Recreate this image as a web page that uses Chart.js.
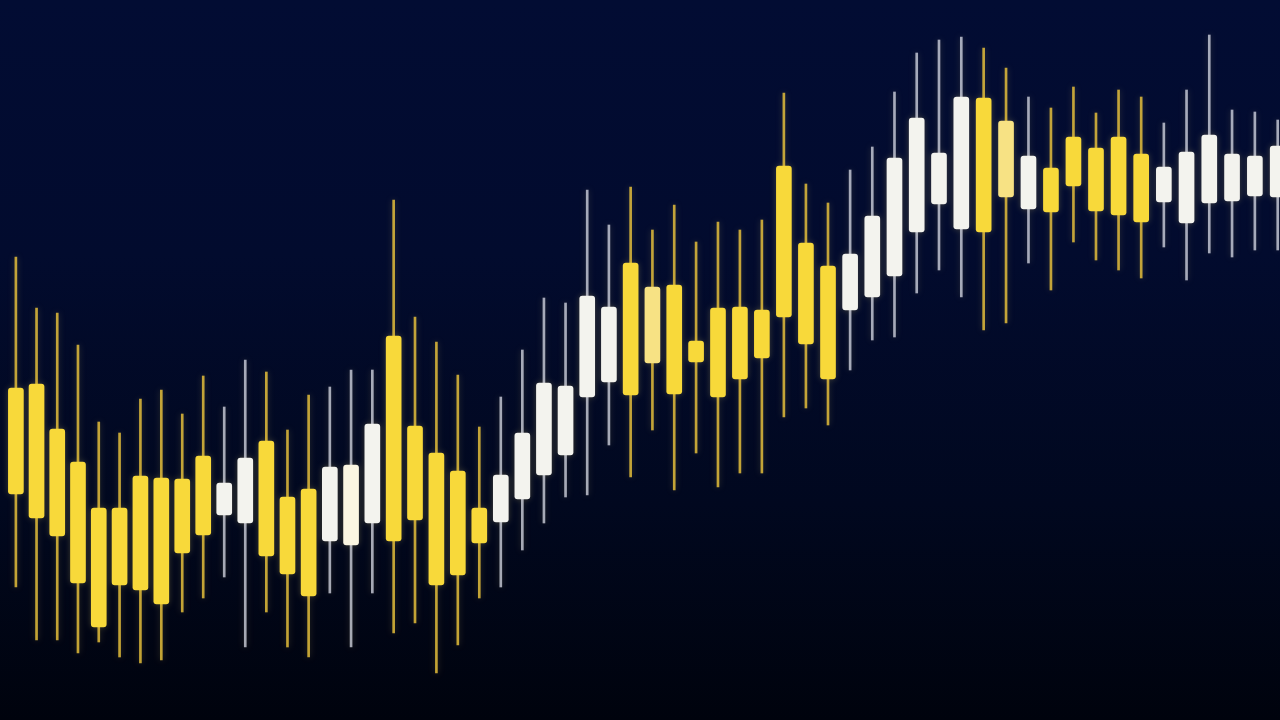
<!DOCTYPE html>
<html>
<head>
<meta charset="utf-8">
<script src="https://cdn.jsdelivr.net/npm/chart.js@4.4.1/dist/chart.umd.min.js"></script>
<style>
  html, body { margin: 0; padding: 0; width: 1280px; height: 720px; overflow: hidden;
    background: linear-gradient(to bottom, #020c33 0%, #020b2e 35%, #01081f 70%, #00030d 100%); }
  #wrap { position: absolute; left: 0; top: 0; width: 1280px; height: 720px; }
  canvas { filter: drop-shadow(0 0 3px rgba(255, 225, 110, 0.25)); }
</style>
</head>
<body>
<div id="wrap"><canvas id="c" width="1280" height="720"></canvas></div>
<script>
// ---- data ----
const sessions = Array.from({length: 59}, (_, i) => 'S' + (i + 1));
const open  = [33.2,33.6,29.1,25.8,21.2,21.2,24.4,24.2,24.1,26.4,
               20.5,19.7,27.9,22.3,23.1,17.9,17.5,19.7,38.4,29.4,
               26.7,24.9,21.2,19.8,22.1,24.5,26.5,32.3,33.8,45.7,
               43.3,43.5,37.9,41.2,41.3,41.0,55.4,47.7,45.4,41.0,
               42.3,44.4,48.8,51.6,49.1,62.2,59.9,51.1,55.2,58.3,
               57.2,58.3,56.6,51.8,49.7,51.7,51.9,52.4,52.3];
const close = [22.6,20.2,18.4,13.7,9.3,13.5,13.0,11.6,16.7,18.5,
               23.7,26.2,16.4,14.6,12.4,25.3,25.5,29.6,17.9,20.0,
               13.5,14.5,17.7,24.5,28.7,33.7,33.4,42.4,41.3,32.5,
               35.7,32.6,35.8,32.3,34.1,36.2,40.3,37.6,34.1,46.6,
               50.4,56.2,60.2,56.7,62.3,48.8,52.3,56.4,50.8,53.4,
               50.9,50.5,49.8,55.3,56.8,58.5,56.6,56.4,57.4];
const high  = [46.3,41.2,40.7,37.5,29.8,28.7,32.1,33.0,30.6,34.4,
               31.3,36.0,34.8,29.0,32.5,33.3,35.0,35.0,52.0,40.3,
               37.8,34.5,29.3,32.3,37.0,42.2,41.7,53.0,49.5,53.3,
               49.0,51.5,47.8,49.8,49.0,50.0,62.7,53.6,51.7,55.0,
               57.3,62.8,66.7,68.0,68.3,67.2,65.2,62.3,61.2,63.3,
               60.7,63.0,62.3,59.7,63.0,68.5,61.0,60.8,60.0];
const low   = [13.3,8.0,8.0,6.7,7.8,6.3,5.7,6.0,10.8,12.2,
               14.3,7.3,10.8,7.3,6.3,12.7,7.3,12.7,8.7,9.7,
               4.7,7.5,12.2,13.3,17.0,19.7,22.3,22.5,27.5,24.3,
               29.0,23.0,26.7,23.3,24.7,24.7,30.3,31.2,29.5,35.0,
               38.0,38.3,42.7,45.0,42.3,39.0,39.7,45.7,43.0,47.8,
               46.0,45.0,44.2,47.3,44.0,46.7,46.3,47.0,47.0];

// ---- styling ----
const UP_BODY = '#f3f3ee', DOWN_BODY = '#f8d93a', PALE_BODY = '#f7e284', CREAM_BODY = '#fbf6e2';
const UP_WICK = 'rgba(226,229,240,0.72)', DOWN_WICK = 'rgba(236,196,60,0.82)';
const PALE = new Set([30, 46]);   // softly lit candles
const CREAM = new Set([16]);
const isUp = i => close[i] >= open[i];
const bodyColor = i => PALE.has(i) ? PALE_BODY : CREAM.has(i) ? CREAM_BODY : (isUp(i) ? UP_BODY : DOWN_BODY);

// a linear scale with a slight perspective warp (later sessions spread a bit wider)
class PerspectiveScale extends Chart.LinearScale {
  static id = 'perspective';
  static defaults = Chart.LinearScale.defaults;
  getPixelForValue(value) {
    if (value === null || value === undefined) return NaN;
    const d = (value - this._startValue) / this._valueRange;
    const g = d - 0.052 * d * (1 - d);
    return this.getPixelForDecimal(g);
  }
}
Chart.register(PerspectiveScale);

const wickData = sessions.map((s, i) => ({x: i, y: [low[i], high[i]]}));
const bodyData = sessions.map((s, i) => ({x: i, y: [open[i], close[i]]}));

new Chart(document.getElementById('c'), {
  type: 'bar',
  data: {
    datasets: [
      {
        label: 'High-Low',
        data: wickData,
        barThickness: 2,
        backgroundColor: ctx => isUp(ctx.dataIndex) ? UP_WICK : DOWN_WICK,
        borderWidth: 0,
        grouped: false,
        order: 2
      },
      {
        label: 'Open-Close',
        data: bodyData,
        barThickness: 15,
        borderRadius: 3,
        borderSkipped: false,
        backgroundColor: ctx => bodyColor(ctx.dataIndex),
        borderWidth: 0,
        grouped: false,
        order: 1
      }
    ]
  },
  options: {
    responsive: false,
    animation: false,
    devicePixelRatio: 1,
    layout: { padding: 0 },
    plugins: { legend: { display: false }, tooltip: { enabled: false } },
    scales: {
      x: { type: 'perspective', min: -0.77, max: 58.1, offset: false, display: false,
           grid: { display: false, offset: false } },
      y: { type: 'linear', min: 0, max: 72, display: false, grid: { display: false } }
    }
  }
});
</script>
</body>
</html>
